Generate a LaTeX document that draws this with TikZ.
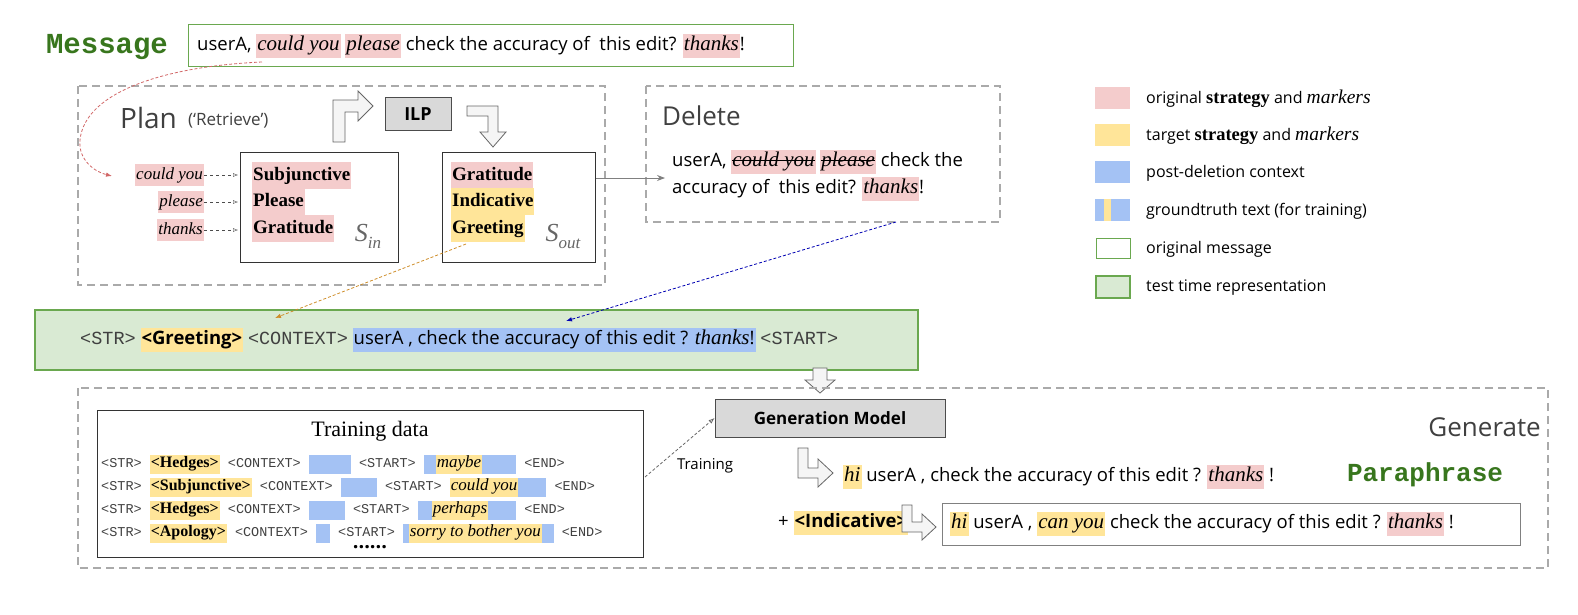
\documentclass[tikz,border=0pt]{standalone}
\usepackage{fontspec}
\setmainfont{Open Sans}
\newfontfamily\serf{Liberation Serif}
\newfontfamily\mono{Liberation Mono}
\newlength\stlen
\newcommand\sot[1]{\settowidth{\stlen}{#1}\rlap{\rule[0.6ex]{\stlen}{0.9pt}}#1}
\definecolor{pk}{HTML}{F4CCCC}
\definecolor{yl}{HTML}{FFE599}
\definecolor{bl}{HTML}{A4C2F4}
\definecolor{gr}{HTML}{6AA84F}
\definecolor{lg}{HTML}{D9EAD3}
\definecolor{dg}{HTML}{38761D}
\definecolor{gy}{HTML}{AAAAAA}
\newcommand\hlt[2]{{\setlength{\fboxsep}{1pt}\colorbox{#1}{\strut #2}}}
\newcommand\blk[1]{{\setlength{\fboxsep}{1pt}\colorbox{bl}{\strut\hspace{#1pt}}}}
\newcommand\si[1]{{\serf\itshape\fontsize{21}{22}\selectfont #1}}
\tikzset{
  dbox/.style={draw=gy,dashed,line width=1.5pt,dash pattern=on 8pt off 5pt},
  sbox/.style={draw=black!80,line width=0.8pt},
  txt/.style={inner sep=0pt,anchor=west,font=\fontsize{18.5}{22}\selectfont},
  hollow/.style={draw=black!60,fill=black!4,line width=0.8pt},
  ser/.style={inner sep=0pt,anchor=west,font=\fontsize{19}{25}\selectfont\serf\bfseries},
}
\usetikzlibrary{arrows.meta}
\begin{document}
\begin{tikzpicture}[x=1pt,y=-1pt]
\useasboundingbox (0,0) rectangle (1578,614);
% Message
\node[inner sep=0pt,font=\fontsize{29}{29}\selectfont\mono\bfseries,text=dg] (msgl) at (107,47) {Message};
\draw[gr,line width=1pt] (188,24) rectangle (793,66);
\node[txt] (msg) at (197,46) {userA, \hlt{pk}{\si{could you}} \hlt{pk}{\si{please}} check the accuracy of\ \ this edit? \hlt{pk}{\si{thanks}}!};
\coordinate (msgc) at (262,62);
% Plan
\draw[dbox] (78,86) rectangle (605,285);
\node[inner sep=0pt,anchor=west,text=black!75,font=\fontsize{28}{28}\selectfont] (plan) at (120,118) {Plan};
\node[inner sep=0pt,anchor=west,text=black!75,font=\fontsize{17}{17}\selectfont] (ret) at (188,121) {(`Retrieve')};
\draw[hollow] (333,142)--(333,100)--(358,100)--(358,91)--(373,106)--(358,121)--(358,112)--(345,112)--(345,142)--cycle;
\node[draw=black!70,fill=black!15,line width=0.8pt,minimum width=66pt,minimum height=33pt,font=\fontsize{18}{18}\selectfont\bfseries] (ilp) at (418,114) {ILP};
\draw[hollow] (467,106)--(498,106)--(498,132)--(506,132)--(493,147)--(480,132)--(488,132)--(488,116)--(467,116)--cycle;
\node[sbox,minimum width=158pt,minimum height=110pt] (sin) at (319,207) {};
\node[sbox,minimum width=153pt,minimum height=110pt] (sout) at (519,207) {};
\node[ser] (s1) at (252,175) {\hlt{pk}{Subjunctive}};
\node[ser] (s2) at (252,201) {\hlt{pk}{Please}};
\node[ser] (s3) at (252,228) {\hlt{pk}{Gratitude}};
\node[inner sep=0pt,text=black!60,font=\fontsize{26}{26}\selectfont\serf\itshape] (sinl) at (368,236) {S\raisebox{-7pt}{\fontsize{17}{17}\selectfont in}};
\node[ser] (o1) at (451,175) {\hlt{pk}{Gratitude}};
\node[ser] (o2) at (451,201) {\hlt{yl}{Indicative}};
\node[ser] (o3) at (451,228) {\hlt{yl}{Greeting}};
\node[inner sep=0pt,text=black!60,font=\fontsize{26}{26}\selectfont\serf\itshape] (soutl) at (563,236) {S\raisebox{-7pt}{\fontsize{17}{17}\selectfont out}};
\node[inner sep=0pt,anchor=east,font=\fontsize{17}{20}\selectfont\serf\itshape] (m1) at (204,175) {\hlt{pk}{could you}};
\node[inner sep=0pt,anchor=east,font=\fontsize{17}{20}\selectfont\serf\itshape] (m2) at (204,202) {\hlt{pk}{please}};
\node[inner sep=0pt,anchor=east,font=\fontsize{17}{20}\selectfont\serf\itshape] (m3) at (204,230) {\hlt{pk}{thanks}};
\foreach \i in {1,2,3} \draw[dashed,black!70,-{Latex[length=5pt,open]}] (m\i.east) -- ++(34,0);
\draw[red!70!black!60,densely dashed,line width=0.8pt,-{Latex[length=6pt]}] (msgc) .. controls (170,66) and (85,90) .. (80,140) .. controls (78,160) and (95,172) .. (112,176);
% Delete
\draw[dbox] (646,86) rectangle (1000,222);
\node[inner sep=0pt,anchor=west,text=black!75,font=\fontsize{26}{26}\selectfont] (del) at (662,116) {Delete};
\node[txt] (d1) at (672,162) {userA, \hlt{pk}{\si{\sot{could you}}} \hlt{pk}{\si{\sot{please}}} check the};
\node[txt] (d2) at (672,189) {accuracy of\ \ this edit? \hlt{pk}{\si{thanks}}!};
\coordinate (dl) at (646,178);
\draw[black!50,line width=0.8pt,-{Stealth[length=8pt]}] (sout.east |- dl) -- (665,178);
% Legend
\foreach \y/\c in {98/pk,135/yl,172/bl} \fill[\c] (1095,\y-11) rectangle (1130,\y+11);
\fill[bl] (1095,199) rectangle (1130,221); \fill[yl] (1104,199) rectangle (1111,221);
\draw[gr,line width=0.8pt] (1096,238) rectangle (1130,258);
\draw[gr,line width=1.6pt,fill=lg] (1096,276) rectangle (1130,298);
\tikzset{leg/.style={inner sep=0pt,anchor=west,font=\fontsize{16}{20}\selectfont}}
\newcommand\lgs{{\fontsize{18.5}{20}\selectfont\serf\bfseries strategy}}
\newcommand\lgm{{\fontsize{19.5}{20}\selectfont\serf\itshape markers}}
\node[leg] (l1) at (1146,99) {original \lgs{} and \lgm};
\node[leg] (l2) at (1146,136) {target \lgs{} and \lgm};
\node[leg] (l3) at (1146,173) {post-deletion context};
\node[leg] (l4) at (1146,211) {groundtruth text (for training)};
\node[leg] (l5) at (1146,249) {original message};
\node[leg] (l6) at (1146,288) {test time representation};
% Representation
\node[draw=gr,fill=lg,line width=1.6pt,minimum width=883pt,minimum height=60pt] (rep) at (476.5,340) {};
\node[txt] (rt) at (80,340) {{\mono\color{black!75}<STR>} \hlt{yl}{\bfseries <Greeting>} {\mono\color{black!75}<CONTEXT>} \hlt{bl}{userA , check the accuracy of this edit ? \si{thanks}!} {\mono\color{black!75}<START>}};
\coordinate (gre) at (466,244);
\coordinate (dbt) at (896,222);
\draw[yellow!60!red!80!black,densely dashed,line width=0.8pt,-{Latex[length=6pt]}] (gre) -- (275,318);
\draw[blue!70!black,densely dashed,line width=0.8pt,-{Latex[length=6pt]}] (dbt) -- (566,321);
\draw[hollow] (813,368)--(827,368)--(827,380)--(835,380)--(820,393)--(805,380)--(813,380)--cycle;
% Generate
\draw[dbox] (78,388) rectangle (1548,568);
\node[inner sep=0pt,anchor=east,text=black!75,font=\fontsize{26}{26}\selectfont] (gen) at (1541,427) {Generate};
\node[draw=black!70,fill=black!15,line width=0.8pt,minimum width=230pt,minimum height=38pt,font=\fontsize{17}{17}\selectfont\bfseries] (gm) at (830,418) {Generation Model};
\node[sbox,minimum width=546pt,minimum height=147pt] (td) at (370,483.5) {};
\node[inner sep=0pt,font=\fontsize{22}{22}\selectfont\serf] (tdl) at (370,431) {Training data};
\tikzset{row/.style={inner sep=0pt,anchor=west,font=\fontsize{13.5}{17}\selectfont\mono\color{black!75}}}
\newcommand\tg[1]{\hlt{yl}{\color{black}\fontsize{16}{17}\selectfont\serf\bfseries #1}}
\newcommand\tw[1]{\hlt{yl}{\color{black}\fontsize{17}{17}\selectfont\serf\itshape #1}}
\newcommand\blu[1]{{\setlength{\fboxsep}{0pt}\colorbox{bl}{\strut#1}}}
\node[row] (r1) at (101,464) {<STR> \tg{<Hedges>} <CONTEXT> \blk{40} <START> \blu{\hspace{12pt}\tw{maybe}\hspace{34pt}} <END>};
\node[row] (r2) at (101,487) {<STR> \tg{<Subjunctive>} <CONTEXT> \blk{34} <START> \blu{\tw{could you}\hspace{28pt}} <END>};
\node[row] (r3) at (101,510) {<STR> \tg{<Hedges>} <CONTEXT> \blk{34} <START> \blu{\hspace{14pt}\tw{perhaps}\hspace{28pt}} <END>};
\node[row] (r4) at (101,533) {<STR> \tg{<Apology>} <CONTEXT> \blk{12} <START> \blu{\hspace{6pt}\tw{sorry to bother you}\hspace{12pt}} <END>};
\node[inner sep=0pt,font=\fontsize{20}{20}\selectfont\bfseries] (dots) at (370,547) {......};
\draw[black!60,densely dashed,line width=0.8pt,-{Latex[length=6pt,open]}] (645,477) -- (gm.west);
\node[inner sep=0pt,font=\fontsize{15}{15}\selectfont] (trn) at (705,466) {Training};
\draw[hollow] (798,448)--(808,448)--(808,468)--(818,468)--(818,459)--(833,473)--(818,487)--(818,478)--(798,478)--cycle;
\node[txt] (p1) at (843,477) {\hlt{yl}{\si{hi}} userA , check the accuracy of this edit ? \hlt{pk}{\si{thanks}} !};
\node[inner sep=0pt,font=\fontsize{26}{26}\selectfont\mono\bfseries,text=dg] (para) at (1425,475) {Paraphrase};
\node[txt] (ind) at (778,523) {+ \hlt{yl}{\bfseries <Indicative>}};
\draw[hollow] (902,505)--(912,505)--(912,522)--(922,522)--(922,514)--(936,527)--(922,540)--(922,532)--(902,532)--cycle;
\node[draw=black!50,line width=0.8pt,minimum width=578pt,minimum height=42pt] (fb) at (1231,524) {};
\node[txt] (p2) at (950,524) {\hlt{yl}{\si{hi}} userA , \hlt{yl}{\si{can you}} check the accuracy of this edit ? \hlt{pk}{\si{thanks}} !};
\end{tikzpicture}
\end{document}
